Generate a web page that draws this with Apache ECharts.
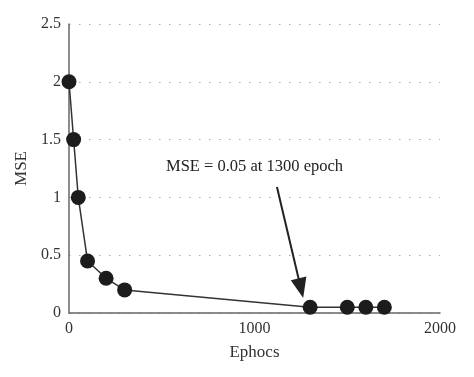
<!DOCTYPE html>
<html>
<head>
<meta charset="utf-8">
<script src="https://cdn.jsdelivr.net/npm/echarts@6/dist/echarts.min.js"></script>
<style>
  html, body { margin: 0; padding: 0; background: #fff; }
  #chart { width: 474px; height: 377px; }
</style>
</head>
<body>
<div id="chart"></div>
<script>
// data
const epochs = [0, 25, 50, 100, 200, 300, 1300, 1500, 1600, 1700]
const mse = [2, 1.5, 1, 0.45, 0.3, 0.2, 0.05, 0.05, 0.05, 0.05]
const noteText = 'MSE = 0.05 at 1300 epoch'
const arrowFrom = [1121, 1.09]
const arrowTo = [1250, 0.215]

const font = '"Liberation Serif", "DejaVu Serif", serif'
const chart = echarts.init(document.getElementById('chart'))

chart.setOption({
  animation: false,
  backgroundColor: '#fff',
  grid: { left: 69, right: 34, top: 24, bottom: 64 },
  xAxis: {
    type: 'value',
    min: 0,
    max: 2000,
    interval: 1000,
    name: 'Ephocs',
    nameLocation: 'middle',
    nameGap: 31,
    nameTextStyle: { fontFamily: font, fontSize: 17, color: '#333' },
    axisLine: { lineStyle: { color: '#666', width: 1.5 } },
    axisTick: { show: false },
    axisLabel: {
      fontFamily: font,
      fontSize: 16,
      color: '#333',
      margin: 8,
      formatter: v => String(v)
    },
    splitLine: { show: false }
  },
  yAxis: {
    type: 'value',
    min: 0,
    max: 2.5,
    interval: 0.5,
    name: 'MSE',
    nameLocation: 'middle',
    nameGap: 38,
    nameTextStyle: { fontFamily: font, fontSize: 17, color: '#333' },
    axisLine: { show: true, lineStyle: { color: '#666', width: 1.5 } },
    axisTick: { show: false },
    axisLabel: { fontFamily: font, fontSize: 16, color: '#333', margin: 8 },
    splitLine: {
      show: true,
      lineStyle: { color: '#aaa', width: 1.2, type: [1.5, 8.5] }
    }
  },
  series: [
    {
      type: 'line',
      data: epochs.map((x, i) => [x, mse[i]]),
      symbol: 'circle',
      symbolSize: 15,
      itemStyle: { color: '#1c1c1c' },
      lineStyle: { color: '#333', width: 1.5 },
      markLine: {
        silent: true,
        symbol: ['none', 'triangle'],
        symbolSize: [16, 20],
        label: { show: false },
        lineStyle: { color: '#222', width: 2, type: 'solid' },
        data: [[{ coord: arrowFrom }, { coord: arrowTo }]]
      }
    }
  ],
  graphic: [
    {
      type: 'text',
      left: 166,
      top: 158,
      style: {
        text: noteText,
        fontFamily: font,
        fontSize: 16.5,
        fill: '#222'
      }
    }
  ]
})
</script>
</body>
</html>
